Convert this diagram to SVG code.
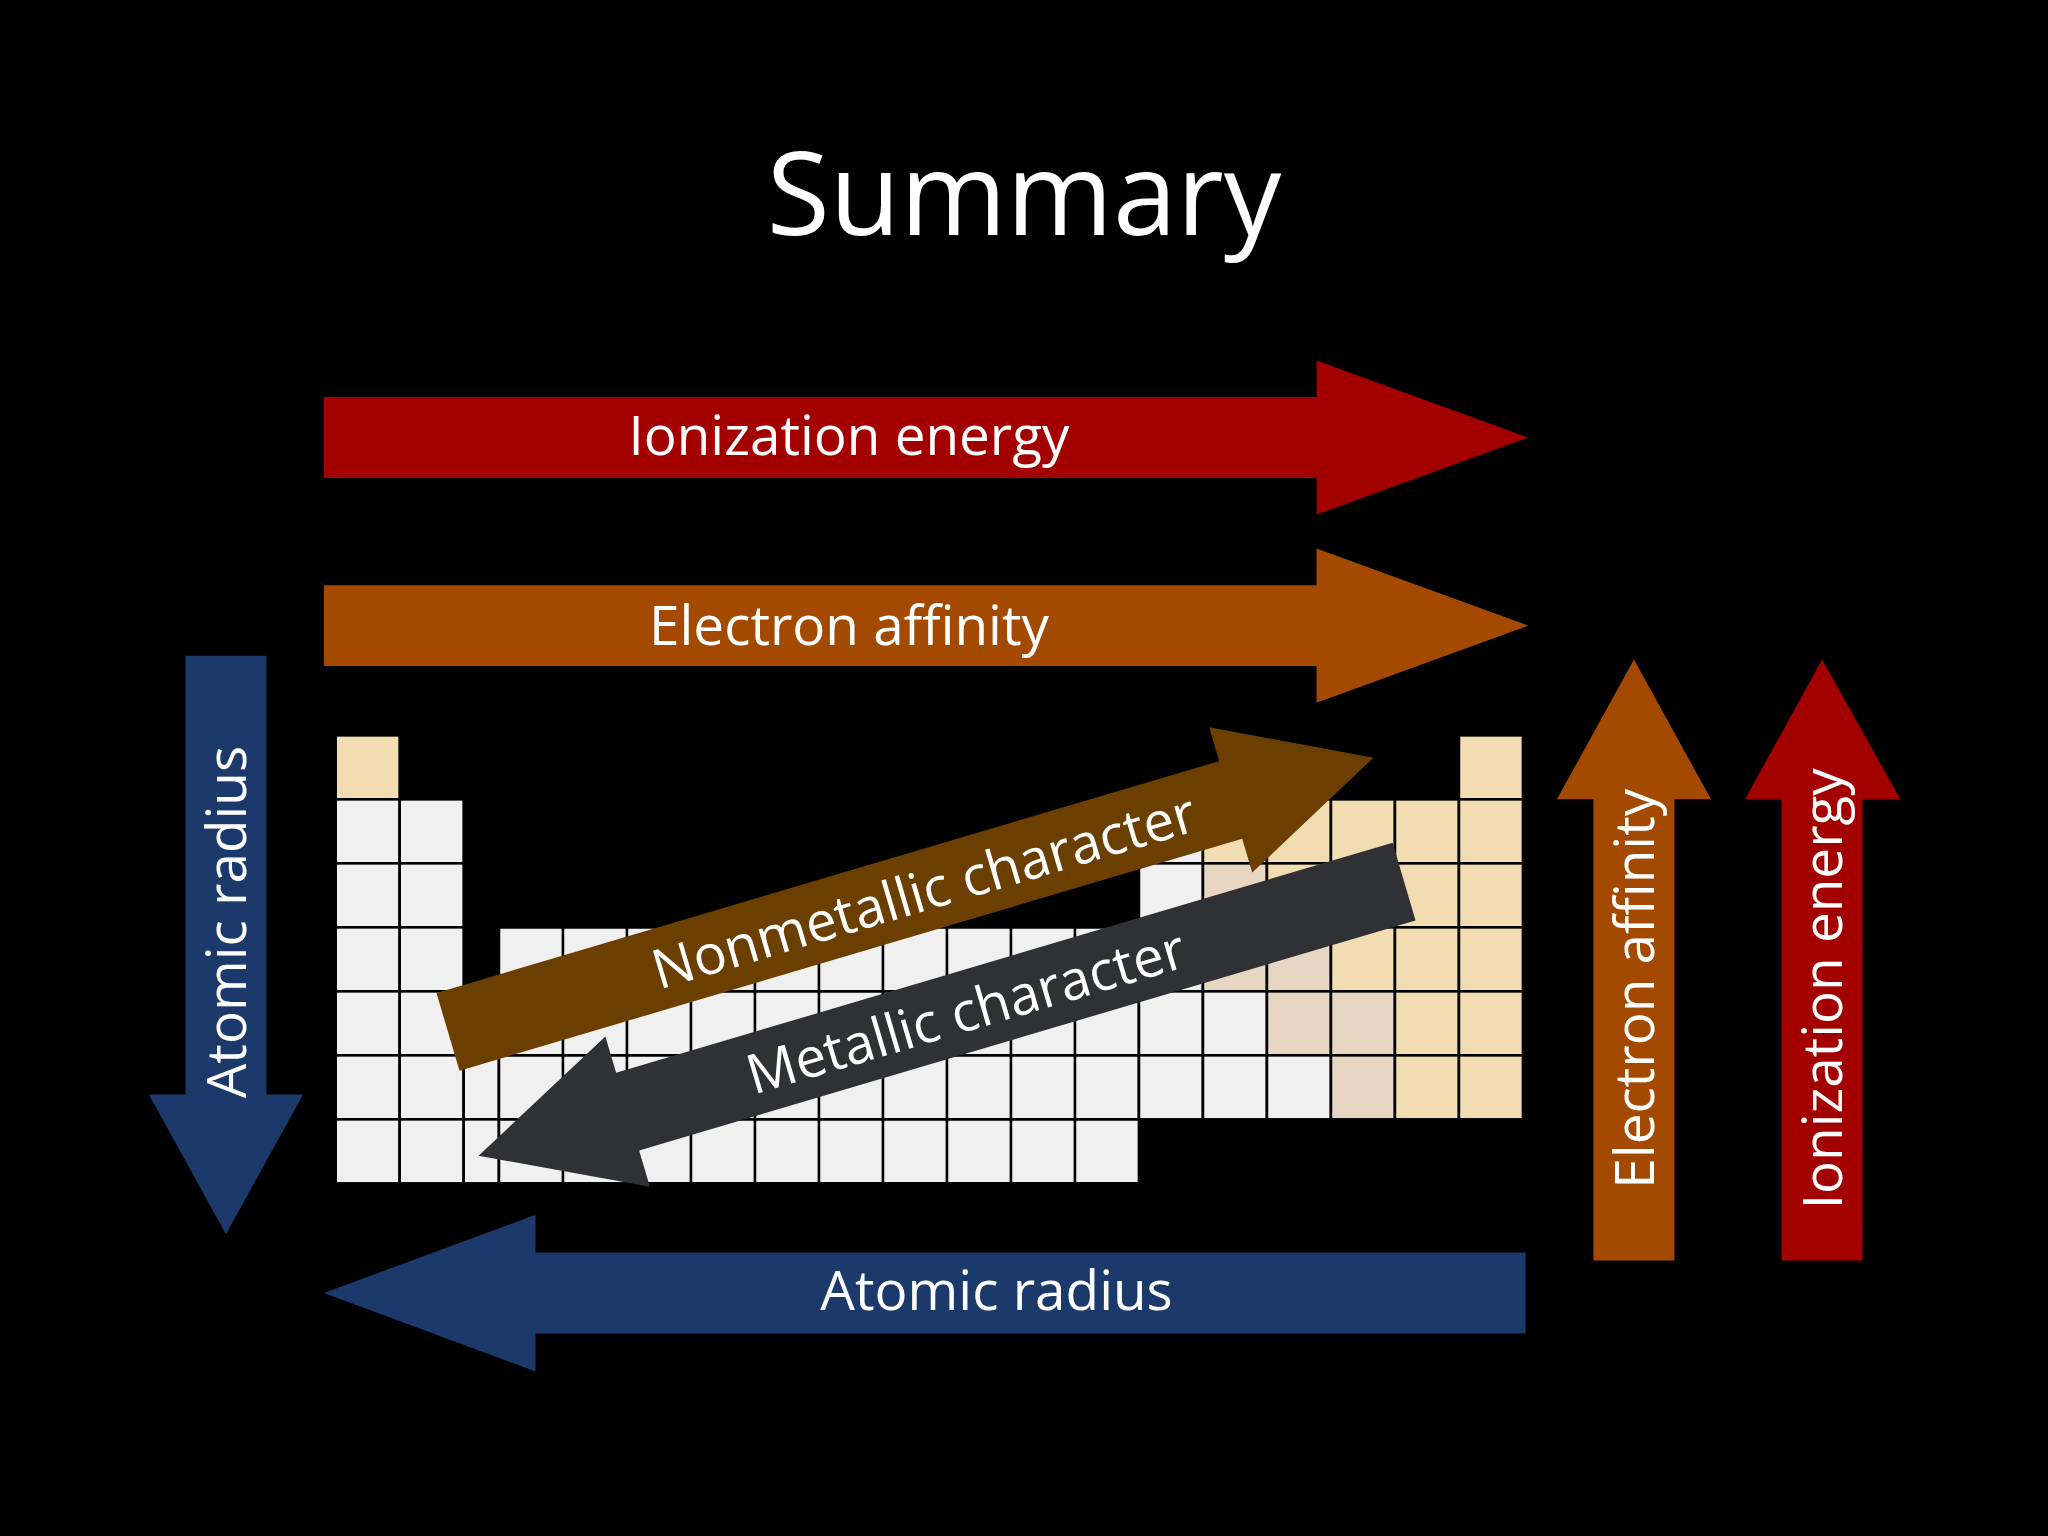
<svg xmlns="http://www.w3.org/2000/svg" width="2048" height="1536" viewBox="0 0 2048 1536">
<style>
.t{font-family:"Open Sans","DejaVu Sans",sans-serif;fill:#fff;text-anchor:middle}
.lab{font-size:42px}
.w{fill:#f0f0f0;stroke:#000;stroke-width:2}
.n{fill:#f2dcb2;stroke:#000;stroke-width:2}
.m{fill:#e6d6c2;stroke:#000;stroke-width:2}
</style>
<rect width="2048" height="1536" fill="#000"/>
<g transform="scale(1.30612)">
<text class="t" x="784" y="180" font-size="88">Summary</text>
<g id="table">
<rect class="n" x="257" y="563" width="49" height="49"/>
<rect class="n" x="1117" y="563" width="49" height="49"/>
<rect class="w" x="257" y="612" width="49" height="49"/><rect class="w" x="306" y="612" width="49" height="49"/>
<rect class="w" x="257" y="661" width="49" height="49"/><rect class="w" x="306" y="661" width="49" height="49"/>
<rect class="w" x="872" y="612" width="49" height="49"/><rect class="n" x="921" y="612" width="49" height="49"/><rect class="n" x="970" y="612" width="49" height="49"/><rect class="n" x="1019" y="612" width="49" height="49"/><rect class="n" x="1068" y="612" width="49" height="49"/><rect class="n" x="1117" y="612" width="49" height="49"/>
<rect class="w" x="872" y="661" width="49" height="49"/><rect class="m" x="921" y="661" width="49" height="49"/><rect class="n" x="970" y="661" width="49" height="49"/><rect class="n" x="1019" y="661" width="49" height="49"/><rect class="n" x="1068" y="661" width="49" height="49"/><rect class="n" x="1117" y="661" width="49" height="49"/>
<g id="rows4to6">
<rect class="w" x="257" y="710" width="49" height="49"/><rect class="w" x="306" y="710" width="49" height="49"/>
<rect class="w" x="257" y="759" width="49" height="49"/><rect class="w" x="306" y="759" width="49" height="49"/><rect class="w" x="355" y="759" width="27" height="49"/>
<rect class="w" x="257" y="808" width="49" height="49"/><rect class="w" x="306" y="808" width="49" height="49"/><rect class="w" x="355" y="808" width="27" height="49"/>
<rect class="w" x="257" y="857" width="49" height="49"/><rect class="w" x="306" y="857" width="49" height="49"/><rect class="w" x="355" y="857" width="27" height="49"/>
</g>
<g id="dblock">
<path class="w" d="M382 710h490v196h-490z"/>
<path d="M431 710v196M480 710v196M529 710v196M578 710v196M627 710v196M676 710v196M725 710v196M774 710v196M823 710v196M382 759h490M382 808h490M382 857h490" stroke="#000" stroke-width="2" fill="none"/>
</g>
<g id="pblock">
<rect class="w" x="872" y="710" width="49" height="49"/><rect class="m" x="921" y="710" width="49" height="49"/><rect class="m" x="970" y="710" width="49" height="49"/><rect class="n" x="1019" y="710" width="49" height="49"/><rect class="n" x="1068" y="710" width="49" height="49"/><rect class="n" x="1117" y="710" width="49" height="49"/>
<rect class="w" x="872" y="759" width="49" height="49"/><rect class="w" x="921" y="759" width="49" height="49"/><rect class="m" x="970" y="759" width="49" height="49"/><rect class="m" x="1019" y="759" width="49" height="49"/><rect class="n" x="1068" y="759" width="49" height="49"/><rect class="n" x="1117" y="759" width="49" height="49"/>
<rect class="w" x="872" y="808" width="49" height="49"/><rect class="w" x="921" y="808" width="49" height="49"/><rect class="w" x="970" y="808" width="49" height="49"/><rect class="m" x="1019" y="808" width="49" height="49"/><rect class="n" x="1068" y="808" width="49" height="49"/><rect class="n" x="1117" y="808" width="49" height="49"/>
</g>
</g>
<g id="arrows">
<g id="ie-h"><path d="M248 304H1008V276L1170 335L1008 394V366H248Z" fill="#a30000"/><text class="t lab" x="650" y="348">Ionization energy</text></g>
<g id="ea-h"><path d="M248 448H1008V420L1170 479L1008 538V510H248Z" fill="#a34a00"/><text class="t lab" x="650" y="494">Electron affinity</text></g>
<g id="ar-h"><path d="M1168 959H410V930L248 990L410 1050V1021H1168Z" fill="#1b3a6b"/><text class="t lab" x="763" y="1003">Atomic radius</text></g>
<g id="ar-v"><path d="M142 502H204V838H232L173 945L114 838H142Z" fill="#1b3a6b"/><text class="t lab" transform="translate(188 706) rotate(-90)">Atomic radius</text></g>
<g id="ea-v"><path d="M1220 965V612H1192L1251 505L1310 612H1282V965Z" fill="#a34a00"/><text class="t lab" transform="translate(1266 757) rotate(-90)">Electron affinity</text></g>
<g id="ie-v"><path d="M1364 965V612H1336L1395 505L1455 612H1426V965Z" fill="#a30000"/><text class="t lab" transform="translate(1410 757) rotate(-90)">Ionization energy</text></g>
<g id="nonmet" transform="translate(343 790) rotate(-16.5)"><path d="M0 -31H625V-58L739 0L625 58V31H0Z" fill="#6b3f00"/><text class="t lab" x="380" y="15">Nonmetallic character</text></g>
<g id="met" transform="translate(1075 675) rotate(163.5)"><path d="M0 -31H620V-60L739 0L620 60V31H0Z" fill="#2f3134"/><text class="t lab" transform="translate(350 0) rotate(180)" x="0" y="15">Metallic character</text></g>
</g>
</g>
</svg>
